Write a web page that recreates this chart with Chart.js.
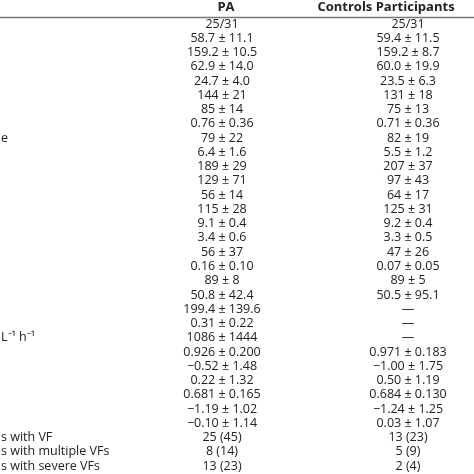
<!DOCTYPE html>
<html>
<head>
<meta charset="UTF-8">
<script src="https://cdn.jsdelivr.net/npm/chart.js"></script>
<style>body{margin:0;background:#fff}canvas{display:block}</style>
</head>
<body>
<canvas id="c" width="474" height="474"></canvas>
<script>
const headers = ['PA', 'Controls Participants'];
const rowLabels = ['', '', '', '', '', '', '', '', 'e', '', '', '', '', '', '', '', '', '', '', '', '', '', 'L\u207B\u00B9 h\u207B\u00B9', '', '', '', '', '', '', 's with VF', 's with multiple VFs', 's with severe VFs'];
const paValues = ['25/31', '58.7 ± 11.1', '159.2 ± 10.5', '62.9 ± 14.0', '24.7 ± 4.0', '144 ± 21', '85 ± 14', '0.76 ± 0.36', '79 ± 22', '6.4 ± 1.6', '189 ± 29', '129 ± 71', '56 ± 14', '115 ± 28', '9.1 ± 0.4', '3.4 ± 0.6', '56 ± 37', '0.16 ± 0.10', '89 ± 8', '50.8 ± 42.4', '199.4 ± 139.6', '0.31 ± 0.22', '1086 ± 1444', '0.926 ± 0.200', '\u22120.52 ± 1.48', '0.22 ± 1.32', '0.681 ± 0.165', '\u22121.19 ± 1.02', '\u22120.10 ± 1.14', '25 (45)', '8 (14)', '13 (23)'];
const controlValues = ['25/31', '59.4 ± 11.5', '159.2 ± 8.7', '60.0 ± 19.9', '23.5 ± 6.3', '131 ± 18', '75 ± 13', '0.71 ± 0.36', '82 ± 19', '5.5 ± 1.2', '207 ± 37', '97 ± 43', '64 ± 17', '125 ± 31', '9.2 ± 0.4', '3.3 ± 0.5', '47 ± 26', '0.07 ± 0.05', '89 ± 5', '50.5 ± 95.1', '—', '—', '—', '0.971 ± 0.183', '\u22121.00 ± 1.75', '0.50 ± 1.19', '0.684 ± 0.130', '\u22121.24 ± 1.25', '0.03 ± 1.07', '13 (23)', '5 (9)', '2 (4)'];
const colX = [1, 222, 408];

const tableText = {
  id: 'tableText',
  afterDraw(chart) {
    const {ctx, scales: {x, y}} = chart;
    ctx.save();
    ctx.fillStyle = '#222';
    ctx.textBaseline = 'middle';
    ctx.font = 'bold 13px "Open Sans", sans-serif';
    ctx.textAlign = 'center';
    headers.forEach((h, i) => ctx.fillText(h, x.getPixelForValue(colX[i + 1] + (i ? -22 : 4)), y.getPixelForValue(-1.15)));
    ctx.strokeStyle = '#777';
    ctx.lineWidth = 1.5;
    ctx.beginPath();
    ctx.moveTo(0, y.getPixelForValue(-0.45));
    ctx.lineTo(474, y.getPixelForValue(-0.45));
    ctx.stroke();
    ctx.font = '12.5px "Open Sans", sans-serif';
    rowLabels.forEach((t, i) => {
      ctx.textAlign = 'left';
      ctx.fillText(t, x.getPixelForValue(colX[0]), y.getPixelForValue(i));
    });
    ctx.textAlign = 'center';
    paValues.forEach((t, i) => ctx.fillText(t, x.getPixelForValue(colX[1]), y.getPixelForValue(i)));
    controlValues.forEach((t, i) => ctx.fillText(t, x.getPixelForValue(colX[2]), y.getPixelForValue(i)));
    ctx.restore();
  }
};

new Chart(document.getElementById('c'), {
  type: 'scatter',
  data: { datasets: [{ data: [] }] },
  options: {
    responsive: false, animation: false,
    layout: { padding: 0 },
    plugins: { legend: { display: false }, tooltip: { enabled: false } },
    scales: {
      x: { type: 'linear', min: 0, max: 474, display: false },
      y: { type: 'linear', min: -1.683, max: 31.556, reverse: true, display: false }
    }
  },
  plugins: [tableText]
});
</script>
</body>
</html>
